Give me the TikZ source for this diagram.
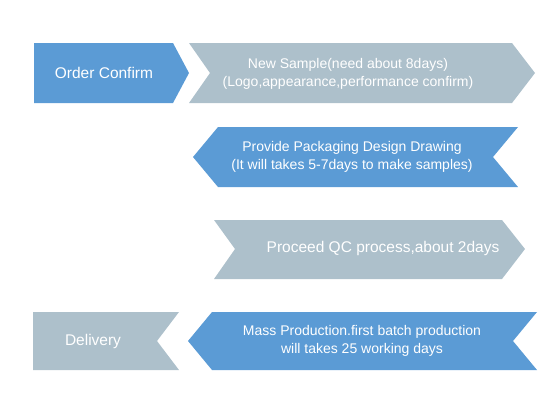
\documentclass[tikz,border=0pt]{standalone}
\usepackage{fontspec}
\setmainfont{Liberation Sans}
\definecolor{stepblue}{HTML}{5B9BD5}
\definecolor{stepgray}{HTML}{ADC0CB}
\tikzset{
  steptext/.style={text=white, align=center, font=\fontsize{14}{18.5}\selectfont},
  bigtext/.style={steptext, font=\fontsize{15.5}{18.5}\selectfont},
}

\begin{document}
\begin{tikzpicture}[x=1pt,y=-1pt]
  \useasboundingbox (0,0) rectangle (560,416);
  % Row 1
  \fill[stepblue] (34,43) -- (173,43) -- (189,73) -- (173,103) -- (34,103) -- cycle;
  \fill[stepgray] (189,43) -- (512,43) -- (535,73) -- (512,103) -- (189,103) -- (210,73) -- cycle;
  \node[bigtext] (order) at (104,73) {Order Confirm};
  \node[steptext] (sample) at (348,74) {New Sample(need about 8days)\\(Logo,appearance,performance confirm)};
  % Row 2
  \fill[stepblue] (193,157) -- (218,127) -- (518,127) -- (493,157) -- (518,187) -- (218,187) -- cycle;
  \node[steptext] (design) at (352,157) {Provide Packaging Design Drawing\\(It will takes 5-7days to make samples)};
  % Row 3
  \fill[stepgray] (214,220) -- (502,220) -- (525,249) -- (502,279) -- (214,279) -- (235,249) -- cycle;
  \node[bigtext] (qc) at (383,248) {Proceed QC process,about 2days};
  % Row 4
  \fill[stepgray] (33,312) -- (179,312) -- (157,341) -- (179,370) -- (33,370) -- cycle;
  \fill[stepblue] (188,341) -- (212,312) -- (537,312) -- (513,341) -- (537,370) -- (212,370) -- cycle;
  \node[bigtext] (delivery) at (93,341) {Delivery};
  \node[steptext] (mass) at (362,341) {Mass Production.first batch production\\will takes 25 working days};
\end{tikzpicture}
\end{document}
